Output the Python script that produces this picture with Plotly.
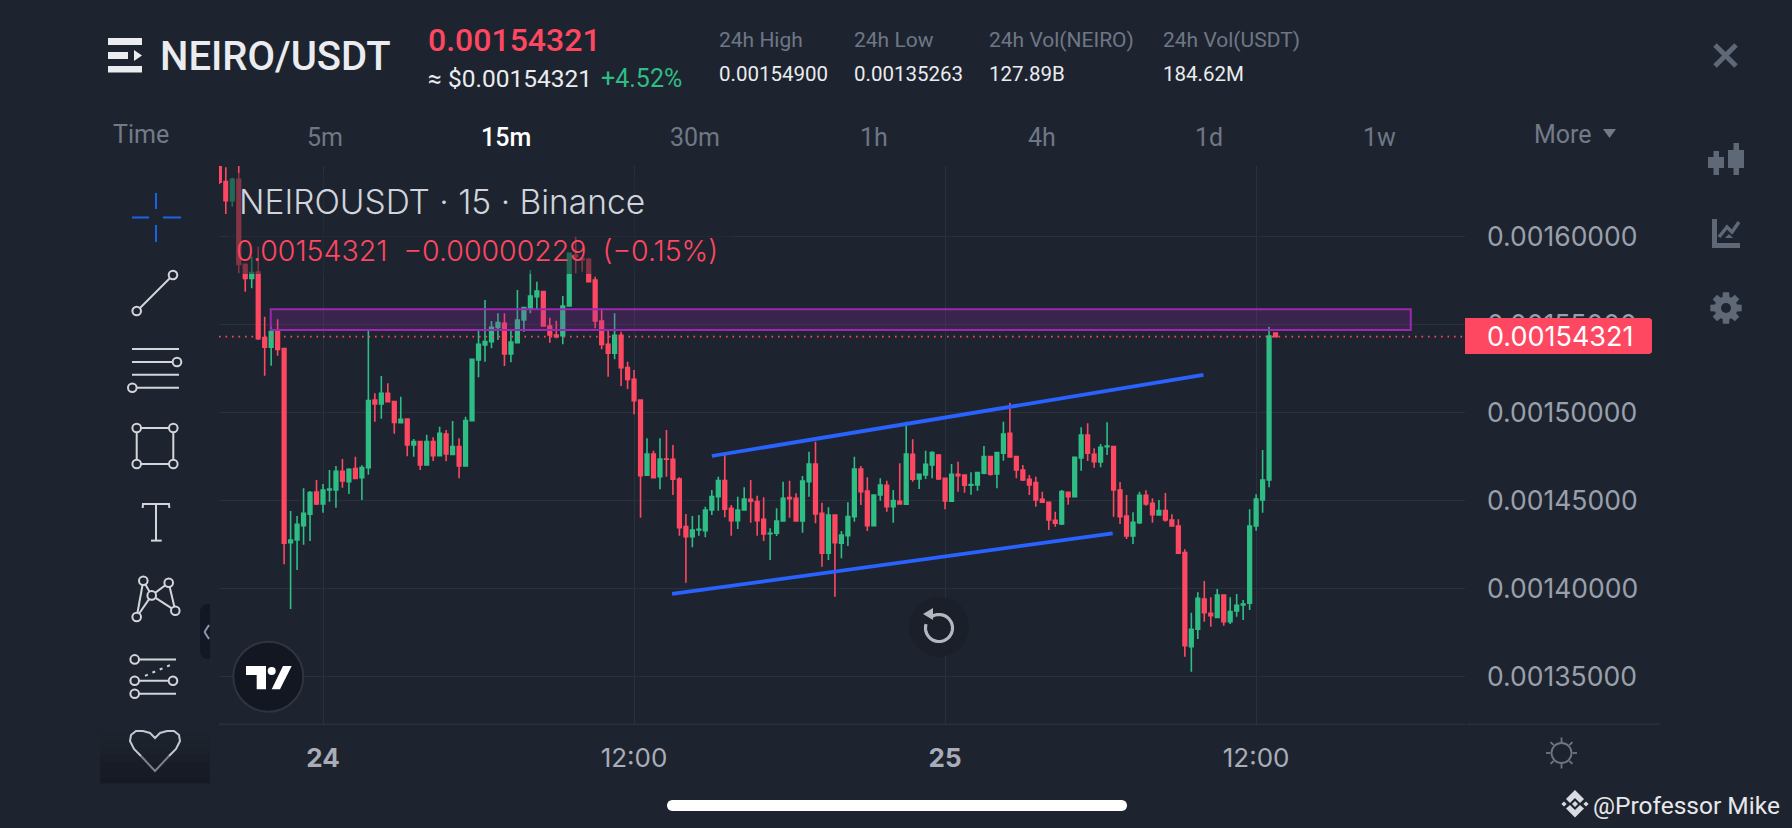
import math
import pandas as pd
import plotly.graph_objects as go

# ---------- data (prices in units of 1e-8 USDT) ----------
opens = [
164500,163127,162047,163259,158430,157634,157994,154263,153714,154604,
153638,142615,142766,143580,144225,145494,144812,145607,145607,146668,
146081,146819,146308,146876,150721,150494,151100,150626,149433,149641,
148164,148353,147028,148353,147558,148789,147634,148069,146971,149547,
152994,153846,154036,154850,155077,153335,153979,155267,155930,156592,
156877,154926,154414,154376,156062,158960,158752,158714,157539,155210,
153884,153373,154395,152558,151895,150721,146441,147653,146365,147369,
147350,146233,143524,142956,143335,143297,144471,145229,146138,144566,
143865,144471,145077,144945,143941,143127,143146,143846,145172,145134,
143846,146081,147085,144282,142009,144187,142577,143013,144093,146801,
145551,143581,145324,145873,144661,144964,144793,147634,146233,146460,
147028,147596,146271,144964,146498,146460,145873,145892,146555,147502,
146517,147691,148828,147502,146744,146214,146025,145078,144907,143884,
143676,145475,145229,147426,148733,147634,147198,148069,148069,145607,
144130,142994,143751,145304,144850,144187,144433,143903,143562,142047,
136706,137691,139414,138599,138372,139641,138126,138732,139073,139168,
143562,145039,146176,154528]
highs = [
164800,163941,163354,164300,158430,158865,159433,155456,154926,155305,
153638,144414,144130,145702,145550,146175,145948,146744,146971,147369,
146838,147501,147009,154698,151100,152085,151668,150664,150910,149680,
148505,148353,148751,148600,149206,149016,149528,148543,149774,153032,
154698,156403,155210,155645,155645,154642,156971,156024,158108,157445,
156877,155399,155229,156630,159055,160002,158770,158770,157729,155930,
154698,155645,154604,152899,152426,150721,148543,147843,148544,149017,
148165,146328,144244,144131,144187,144661,145608,146365,147653,144755,
145229,145759,146176,145286,145191,143430,144566,146081,146138,145418,
146403,147786,148354,144888,144623,144187,143278,144907,147502,146972,
146328,145324,146271,146138,145608,147123,149490,148487,146517,147843,
147805,147653,146271,147085,147218,146460,146612,146612,148108,147540,
147729,149490,150570,147502,147028,146460,146365,145513,144907,144377,
145608,145513,147464,149169,149396,147975,148221,149452,148069,146062,
145323,144338,145513,145588,145134,145039,145437,144225,143941,142236,
138637,139793,140437,139508,139982,139641,139508,139698,139357,144509,
145361,147880,154888,154547]
lows = [
163000,161290,161706,157918,156877,157066,154130,152104,152672,153240,
141384,138846,141062,142501,142709,144755,144319,144944,144603,145740,
145380,146232,145039,146478,149490,149660,150588,148808,149433,147520,
147501,146744,147028,147255,147558,147236,147634,146270,146971,149547,
152009,152899,153657,154130,152653,152861,153979,154604,155645,155835,
154888,153979,154225,153884,156062,157918,158013,157445,154793,153600,
152047,153032,151517,151346,149906,144035,146441,146271,145646,146365,
145324,143013,140343,142350,143013,142918,144187,144434,144055,143013,
143392,144471,143752,143013,142710,141630,142994,143846,144036,143809,
143183,145229,143714,141252,141630,139547,141725,142426,143809,144756,
143278,143581,145002,144377,143752,144812,144756,146081,145665,146233,
146271,146176,144509,144964,145513,145456,145343,145570,146498,146422,
145702,147275,147483,146271,146119,145324,144661,144907,143335,143524,
143619,144774,145229,146706,147256,146876,146895,147596,144092,143675,
142823,142539,143675,144717,143751,144187,143808,143562,142009,136137,
135285,137141,138126,137842,138372,137899,137993,138410,138221,138789,
143296,144319,145759,154321]
closes = [
163090,162047,163259,158430,157634,157956,154206,153714,154604,153600,
142577,142766,143656,144281,145456,144812,145607,145664,146668,146119,
146782,146270,146876,150683,150494,151100,150626,149452,149622,148164,
148353,147028,148353,147558,148827,147653,148069,146971,149547,153032,
153884,154036,154850,155115,153335,154017,155267,155967,156630,156914,
154926,154414,154320,156062,159055,158865,158676,157445,155210,153884,
153373,154395,152558,151895,150683,146422,147653,146309,147369,147350,
146214,143468,142956,143335,143373,144471,145229,146138,144509,143865,
144471,145096,144964,143865,143108,143146,143846,145134,145115,143846,
146119,147085,144244,142009,144187,142615,143051,144093,146801,145513,
143581,145324,145892,144661,145002,144812,147653,146214,146498,147066,
147729,146233,144983,146498,146422,145873,145911,146593,147502,146498,
147729,148790,147483,146744,146176,145892,145040,144907,143903,143714,
145513,145229,147464,148733,147691,147217,148032,148107,145607,144092,
142994,143770,145304,144812,144206,144433,143903,143562,142009,136762,
137691,139452,138637,138467,139641,138126,138694,139054,139130,143562,
145096,146176,154357,154321]

times = pd.date_range("2024-09-23 20:00", periods=len(opens), freq="15min")
UNIT = 1e-8

y_ticks = [135000, 140000, 145000, 150000, 155000, 160000]
y_labels = ["0.00135000", "0.00140000", "0.00145000", "0.00150000", "0.00155000", "0.00160000"]
x_ticks = ["2024-09-24 00:00", "2024-09-24 12:00", "2024-09-25 00:00", "2024-09-25 12:00"]
x_labels = ["<b>24</b>", "12:00", "<b>25</b>", "12:00"]

upper_x = ["2024-09-24 15:00", "2024-09-25 09:58"]
upper_y = [147539, 152142]
lower_x = ["2024-09-24 13:28", "2024-09-25 06:28"]
lower_y = [139698, 143147]
zone_x = ["2024-09-23 21:59", "2024-09-25 17:58"]
zone_y = [154699, 155875]
y_range = [132254, 164017]
x_range = ["2024-09-23 19:59:15", "2024-09-25 20:03:30"]

# ---------- styles ----------
BG = "#1e242f"
GRID = "#2b313c"
UP = "#2ebd85"
DOWN = "#fe4761"
BLUE = "#2962ff"
PURPLE = "#9c27b0"
ICON = "#d3d5da"
SIDE = "#5f6877"
L, R, T, B = 219, 1465, 166, 725
UI = "Roboto"
TV = "Inter"


def px(x):
    return (x - L) / (R - L)


def py(y):
    return (B - y) / (B - T)


shapes = []
annotations = []


def path(points, close=False, fill=None, color=None, width=0):
    d = "M" + " L".join(f"{px(a):.5f},{py(b):.5f}" for a, b in points) + (" Z" if close else "")
    shapes.append(dict(type="path", xref="paper", yref="paper", path=d, layer="above",
                       fillcolor=fill if fill else "rgba(0,0,0,0)",
                       line=dict(color=color if color else "rgba(0,0,0,0)", width=width)))


def rect(x0, y0, x1, y1, fill):
    path([(x0, y0), (x1, y0), (x1, y1), (x0, y1)], True, fill)


def rounded(x0, y0, x1, y1, r, fill):
    pts = []
    for cx, cy, a0 in [(x1 - r, y0 + r, -90), (x1 - r, y1 - r, 0), (x0 + r, y1 - r, 90), (x0 + r, y0 + r, 180)]:
        for k in range(7):
            a = math.radians(a0 + 15 * k)
            pts.append((cx + r * math.cos(a), cy + r * math.sin(a)))
    path(pts, True, fill)


def seg(x0, y0, x1, y1, color=ICON, width=2):
    path([(x0, y0), (x1, y1)], False, None, color, width)


def circle(x, y, r, color=ICON, width=2, fill=BG):
    shapes.append(dict(type="circle", xref="paper", yref="paper", layer="above",
                       x0=px(x - r), x1=px(x + r), y0=py(y - r), y1=py(y + r),
                       fillcolor=fill, line=dict(color=color, width=width)))


def text(x, y, s, size, color, anchor="left", family=UI, weight=400):
    annotations.append(dict(xref="paper", yref="paper", x=px(x), y=py(y), text=s, showarrow=False,
                            xanchor=anchor, yanchor="middle", borderpad=0, borderwidth=0,
                            font=dict(family=family, size=size, color=color, weight=weight)))


# ---------- chart furniture ----------
seg(L, B - 0.7, 1465, B - 0.7, GRID, 1.5)
seg(1467, B - 0.7, 1660, B - 0.7, GRID, 1.5)
rect(228, 173, 730, 274, "rgba(30,36,47,0.55)")

shapes.append(dict(type="rect", xref="x", yref="y", layer="above",
                   x0=zone_x[0], x1=zone_x[1],
                   y0=zone_y[0] * UNIT, y1=zone_y[1] * UNIT,
                   fillcolor="rgba(156,39,176,0.22)", line=dict(color=PURPLE, width=2)))
shapes.append(dict(type="line", xref="paper", yref="y", layer="above", x0=0, x1=1,
                   y0=closes[-1] * UNIT, y1=closes[-1] * UNIT,
                   line=dict(color=DOWN, width=1.6, dash="1.6px,4.9px")))

# price label
path([(1465, 318)] + [(1649 + 3 * math.cos(math.radians(a)), 321 + 3 * math.sin(math.radians(a))) for a in range(-90, 1, 30)]
     + [(1652 + 3 * math.cos(math.radians(a)) - 3, 351 + 3 * math.sin(math.radians(a))) for a in range(0, 91, 30)]
     + [(1465, 354)], True, DOWN)
text(1487, 336, "0.00154321", 27, "#ffffff", family=TV)

# overlay legend
text(238.5, 202, "NEIROUSDT · 15 · Binance", 33.5, "#d1d4dc", family=TV, weight=300)
text(236, 250, "0.00154321  −0.00000229  (−0.15%)", 28.5, DOWN, family=TV, weight=300)

# header
rect(108, 38, 142, 45, "#eaecef")
rect(108, 52, 128, 59, "#eaecef")
path([(134, 50), (142, 55.5), (134, 61)], True, "#eaecef")
rect(108, 66, 142, 72.5, "#eaecef")
text(160, 56, "NEIRO/USDT", 40, "#eaecef", weight=500)
text(428, 40, "0.00154321", 32, DOWN, weight=500)
text(428, 79, "≈ $0.00154321", 24.5, "#eaecef")
text(601, 79, "+4.52%", 25, UP)
stat_x = [719, 854, 989, 1163]
stat_head = ["24h High", "24h Low", "24h Vol(NEIRO)", "24h Vol(USDT)"]
stat_vals = ["0.00154900", "0.00135263", "127.89B", "184.62M"]
for sx, sh, sv in zip(stat_x, stat_head, stat_vals):
    text(sx, 40, sh, 21, "#6f7786")
    text(sx, 74, sv, 20.5, "#eaecef")

# timeframe tabs
text(140.5, 135, "Time", 25, "#737b89", "center")
tab_x = [325, 506, 695, 874, 1041.5, 1209, 1379]
tab_names = ["5m", "15m", "30m", "1h", "4h", "1d", "1w"]
for tx, tn in zip(tab_x, tab_names):
    text(tx, 137, tn, 25, "#ffffff" if tn == "15m" else "#6f7786", "center", weight=500 if tn == "15m" else 400)
text(1534, 135, "More", 25, "#737b89")
path([(1603, 129), (1616, 129), (1609.5, 138)], True, "#737b89")

# right icons
seg(1715, 45, 1736, 66, SIDE, 5)
seg(1736, 45, 1715, 66, SIDE, 5)
rect(1708, 157, 1724, 168, SIDE)
rect(1713.5, 151, 1719, 175, SIDE)
rect(1728, 150, 1744, 168, SIDE)
rect(1733.5, 143, 1739, 175, SIDE)
rect(1712, 219, 1717, 248, SIDE)
rect(1712, 243, 1740, 248, SIDE)
path([(1719, 237), (1727, 227), (1732, 232), (1739, 222)], False, None, SIDE, 3.5)
path([(1725, 238), (1729, 234), (1733, 238)], True, SIDE)
gear = []
for k in range(8):
    a = k * math.pi / 4
    for da, r in [(-0.30, 11.5), (-0.20, 16), (0.20, 16), (0.30, 11.5)]:
        gear.append((1726 + r * math.cos(a + da), 308 + r * math.sin(a + da)))
path(gear, True, SIDE)
circle(1726, 308, 5, SIDE, 0, BG)

# left toolbar
CROSS = "#1a62e8"
seg(156, 193, 156, 209, CROSS)
seg(156, 225, 156, 242, CROSS)
seg(132, 217.5, 149, 217.5, CROSS)
seg(163, 217.5, 181, 217.5, CROSS)
seg(137, 311, 173, 275)
circle(136.7, 311, 4.3)
circle(173, 275, 4.3)
seg(132, 349, 179, 349)
seg(132, 362, 177, 362)
seg(132, 374.7, 179, 374.7)
seg(132, 387.7, 179, 387.7)
circle(177, 362, 4.3)
circle(132.3, 387.7, 4.3)
path([(136.7, 428), (173.3, 428), (173.3, 464), (136.7, 464)], True, None, ICON, 2)
for cx, cy in [(136.7, 428), (173.3, 428), (136.7, 464), (173.3, 464)]:
    circle(cx, cy, 4.3)
path([(142.7, 508), (143, 504), (169, 504), (169.3, 508)], False, None, ICON, 2)
seg(156, 504, 156, 540.6)
seg(151, 540.6, 161.7, 540.6)
nodes = [(143.3, 580.8), (168.7, 582.7), (151.7, 595.4), (136.7, 617), (175.3, 610.7)]
for a, b in [(0, 3), (0, 2), (2, 1), (1, 4), (2, 4), (2, 3)]:
    seg(nodes[a][0], nodes[a][1], nodes[b][0], nodes[b][1])
for cx, cy in nodes:
    circle(cx, cy, 4.3)
seg(135, 659.4, 176, 659.4)
seg(135, 680.8, 173, 680.8)
seg(135, 693.8, 176, 693.8)
shapes.append(dict(type="line", xref="paper", yref="paper", layer="above", x0=px(145), x1=px(172),
                   y0=py(675.8), y1=py(664.3), line=dict(color=ICON, width=2, dash="3px,5px")))
circle(134.7, 659.4, 4.3)
circle(134.7, 680.8, 4.3)
circle(173, 680.8, 4.3)
circle(134.7, 693.8, 4.3)

# heart panel with fading background
panel = ["#1e242f", "#1d232e", "#1c222c", "#1b202a", "#1a1e28", "#181c26", "#171b25", "#161a24"]
for k, c in enumerate(panel):
    rect(100, 726 + k * 7.2, 210, 726 + (k + 1) * 7.2, c)
heart_top = [(141, 756), (134, 749), (130, 741), (131, 735), (136, 731), (143, 731), (150, 733), (155, 738),
             (160, 733), (167, 731), (174, 731), (179, 735), (180, 741), (176, 749), (169, 756)]
heart_low = [(141, 756), (155, 771), (169, 756)]
path(heart_low, False, None, "#7d808a", 2)
path(heart_top, False, None, "#c4c7cd", 2)

# collapse tab
rounded(200, 604, 222, 659, 8, "#141824")
rect(210, 600, 222, 662, BG)
seg(209, 625, 204.5, 632, "#8a9ab0", 2)
seg(204.5, 632, 209, 639, "#8a9ab0", 2)

# TradingView badge
circle(268.3, 676.7, 35, "#2f343f", 2, "#131722")
path([(246, 666), (266, 666), (266, 689.3), (256.7, 689.3), (256.7, 675), (246, 675)], True, "#ffffff")
circle(271.7, 671, 4, "#ffffff", 0, "#ffffff")
path([(291.7, 666), (280, 689.3), (271.7, 689.3), (283, 666)], True, "#ffffff")

# reset button
circle(939, 626.7, 30, "rgba(0,0,0,0)", 0, "#1a1f29")
arc = []
for k in range(0, 45):
    a = math.radians(-120 + k * 7.2)
    arc.append((939 + 13.5 * math.cos(a), 628 + 13.5 * math.sin(a)))
path(arc, False, None, "#b4b7be", 3.2)
path([(933, 608), (933, 620), (923, 614)], True, "#b4b7be")

# sun icon
circle(1561.5, 753, 10, "#6f7682", 1.8, BG)
for k in range(8):
    a = k * math.pi / 4
    seg(1561.5 + 11 * math.cos(a), 753 + 11 * math.sin(a), 1561.5 + 15.5 * math.cos(a), 753 + 15.5 * math.sin(a), "#6f7682", 1.8)

# home bar and watermark
rounded(667, 800, 1127, 811, 5.4, "#ffffff")
WM = "#d9dbe0"
path([(1575, 790), (1584, 799), (1580, 803), (1575, 798), (1570, 803), (1566, 799)], True, WM)
path([(1575, 817.5), (1584, 808.5), (1580, 805), (1575, 810), (1570, 805), (1566, 808.5)], True, WM)
for cx, cy, r in [(1575, 804, 3), (1564, 804, 2.6), (1586, 804, 2.6)]:
    path([(cx, cy - r), (cx + r, cy), (cx, cy + r), (cx - r, cy)], True, WM)
text(1593, 805, "@Professor Mike", 24.5, "#e6e8ec")

# ---------- figure ----------
fig = go.Figure()
fig.add_trace(go.Candlestick(
    x=times,
    open=[v * UNIT for v in opens],
    high=[v * UNIT for v in highs],
    low=[v * UNIT for v in lows],
    close=[v * UNIT for v in closes],
    increasing=dict(line=dict(color=UP, width=1.6), fillcolor=UP),
    decreasing=dict(line=dict(color=DOWN, width=1.6), fillcolor=DOWN),
    whiskerwidth=0,
    showlegend=False,
))
for xs, ys in [(upper_x, upper_y), (lower_x, lower_y)]:
    fig.add_trace(go.Scatter(x=xs, y=[v * UNIT for v in ys], mode="lines", showlegend=False,
                             line=dict(color=BLUE, width=3.8)))

fig.update_layout(
    width=1792, height=828, autosize=False,
    margin=dict(l=L, r=1792 - R, t=T, b=828 - B, pad=0),
    paper_bgcolor=BG, plot_bgcolor=BG,
    boxgap=0.2,
    shapes=shapes, annotations=annotations,
    hovermode=False,
    xaxis=dict(range=x_range, type="date", rangeslider=dict(visible=False),
               tickmode="array", tickvals=x_ticks, ticktext=x_labels,
               showgrid=True, gridcolor=GRID, gridwidth=1.2, zeroline=False, showline=False,
               ticks="", ticklabelstandoff=15,
               tickfont=dict(family=TV, size=26, color="#a9adb8")),
    yaxis=dict(range=[v * UNIT for v in y_range], side="right",
               tickmode="array", tickvals=[v * UNIT for v in y_ticks], ticktext=y_labels,
               showgrid=True, gridcolor=GRID, gridwidth=1.2, zeroline=False, showline=False,
               ticks="", ticklabelstandoff=21,
               tickfont=dict(family=TV, size=26.5, color="#9aa0ab")),
)

fig.write_html("out.html", config={"displayModeBar": False},
               post_script="document.body.style.margin='0';document.documentElement.style.overflow='hidden';")
